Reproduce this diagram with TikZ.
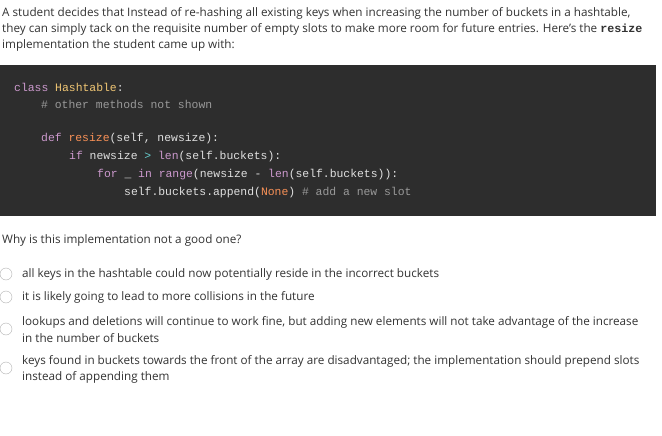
\documentclass[tikz,border=0pt]{standalone}
\usepackage{fontspec}
\setmainfont{Open Sans}
\setmonofont{Liberation Mono}
\definecolor{bg}{HTML}{2D2D2D}
\definecolor{kw}{HTML}{CC99CD}
\definecolor{yl}{HTML}{F0C674}
\definecolor{orn}{HTML}{F99157}
\definecolor{cm}{HTML}{999999}
\definecolor{cy}{HTML}{66CCCC}
\definecolor{fg}{HTML}{E0E0E0}
\definecolor{tx}{HTML}{333333}
\begin{document}
\begin{tikzpicture}[x=1pt,y=-1pt,
  prose/.style={anchor=west,inner sep=0pt,font=\fontsize{11.7}{13}\selectfont,text=tx},
  code/.style={anchor=west,inner sep=0pt,font=\fontsize{11.4}{12}\ttfamily,text=fg},
  radio/.style={draw=gray!60,fill=white,circle,minimum size=12pt,inner sep=0pt}]
\useasboundingbox (0,0) rectangle (662,436);
\fill[white] (0,0) rectangle (662,436);
\node[prose] (p1) at (2,13) {A student decides that Instead of re-hashing all existing keys when increasing the number of buckets in a hashtable,};
\node[prose] (p2) at (2,29) {they can simply tack on the requisite number of empty slots to make more room for future entries. Here's the {\ttfamily\bfseries resize}};
\node[prose] (p3) at (2,45) {implementation the student came up with:};
\fill[bg] (0,65) rectangle (656,216);
\node[code] (c1) at (14,87) {\textcolor{kw}{class} \textcolor{yl}{Hashtable}:};
\node[code] (c2) at (41,104) {\textcolor{cm}{\# other methods not shown}};
\node[code] (c3) at (41,139) {\textcolor{kw}{def} \textcolor{orn}{resize}(self, newsize):};
\node[code] (c4) at (69,157) {\textcolor{kw}{if} newsize \textcolor{cy}{>} \textcolor{kw}{len}(self.buckets):};
\node[code] (c5) at (97,175) {\textcolor{kw}{for} \_ \textcolor{kw}{in} \textcolor{kw}{range}(newsize - \textcolor{kw}{len}(self.buckets)):};
\node[code] (c6) at (124,193) {self.buckets.append(\textcolor{orn}{None}) \textcolor{cm}{\# add a new slot}};
\node[prose] (q) at (2,240) {Why is this implementation not a good one?};
\node[radio] (r1) at (6,274) {};
\node[radio] (r2) at (6,297) {};
\node[radio] (r3) at (6,329) {};
\node[radio] (r4) at (6,368) {};
\node[prose] (a1) at (22,274) {all keys in the hashtable could now potentially reside in the incorrect buckets};
\node[prose] (a2) at (22,297) {it is likely going to lead to more collisions in the future};
\node[prose] (a3) at (22,322) {lookups and deletions will continue to work fine, but adding new elements will not take advantage of the increase};
\node[prose] (a3b) at (22,338) {in the number of buckets};
\node[prose] (a4) at (22,361) {keys found in buckets towards the front of the array are disadvantaged; the implementation should prepend slots};
\node[prose] (a4b) at (22,377) {instead of appending them};
\end{tikzpicture}
\end{document}
